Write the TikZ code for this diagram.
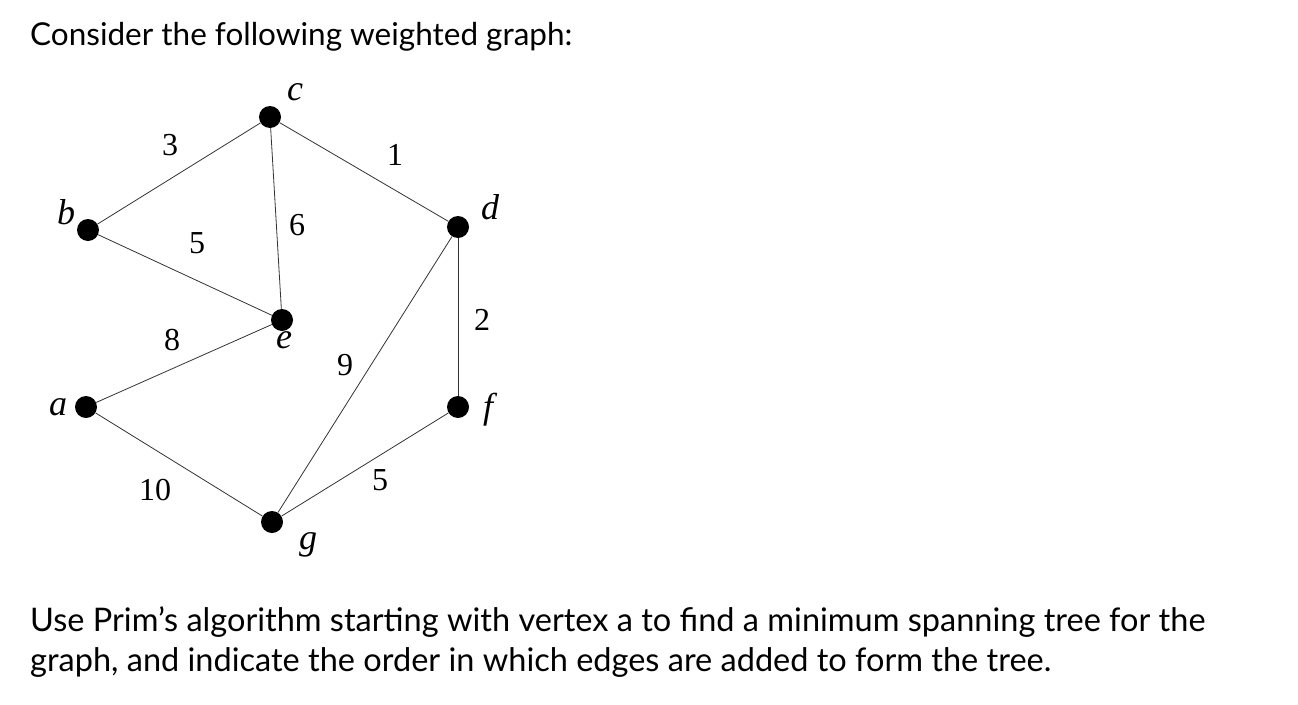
\documentclass[tikz,border=0pt]{standalone}
\usepackage{fontspec}
\setmainfont{Liberation Serif}
\newfontfamily\lato{Lato}
\begin{document}
\begin{tikzpicture}[x=1pt,y=-1pt,
  vtx/.style={circle,fill=black,inner sep=0pt,minimum size=22pt},
  lbl/.style={font=\fontsize{36}{36}\selectfont\itshape},
  wt/.style={font=\fontsize{32}{32}\selectfont},
  edge/.style={draw=black!80,line width=0.8pt}]
\useasboundingbox (0,0) rectangle (1298,704);
\node[anchor=base west,font=\lato\fontsize{31.5}{38}\selectfont,inner sep=0pt] (t) at (30,45) {Consider the following weighted graph:};
\node[anchor=base west,align=left,font=\lato\fontsize{32.5}{40}\selectfont,inner sep=0pt] (u) at (30,671) {Use Prim’s algorithm starting with vertex a to find a minimum spanning tree for the\\graph, and indicate the order in which edges are added to form the tree.};
\node[vtx] (c) at (270,117) {};
\node[vtx] (b) at (88,230) {};
\node[vtx] (d) at (458,227) {};
\node[vtx] (e) at (282,320) {};
\node[vtx] (a) at (86,407) {};
\node[vtx] (f) at (458,407) {};
\node[vtx] (g) at (272,522) {};
\foreach \p/\q in {c/b,c/e,c/d,b/e,e/a,a/g,g/d,d/f,f/g} \draw[edge] (\p)--(\q);
\node[lbl] (lc) at (295,92) {c};
\node[lbl] (lb) at (66,212) {b};
\node[lbl] (ld) at (490,207) {d};
\node[lbl] (le) at (284,340) {e};
\node[lbl] (la) at (58,407) {a};
\node[lbl] (lf) at (488,410) {f};
\node[lbl] (lg) at (308,545) {g};
\node[wt] (w1) at (170,145) {3};
\node[wt] (w2) at (395,155) {1};
\node[wt] (w3) at (297,225) {6};
\node[wt] (w4) at (197,243) {5};
\node[wt] (w5) at (482,320) {2};
\node[wt] (w6) at (172,340) {8};
\node[wt] (w7) at (345,365) {9};
\node[wt] (w8) at (155,490) {10};
\node[wt] (w9) at (380,480) {5};
\end{tikzpicture}
\end{document}
